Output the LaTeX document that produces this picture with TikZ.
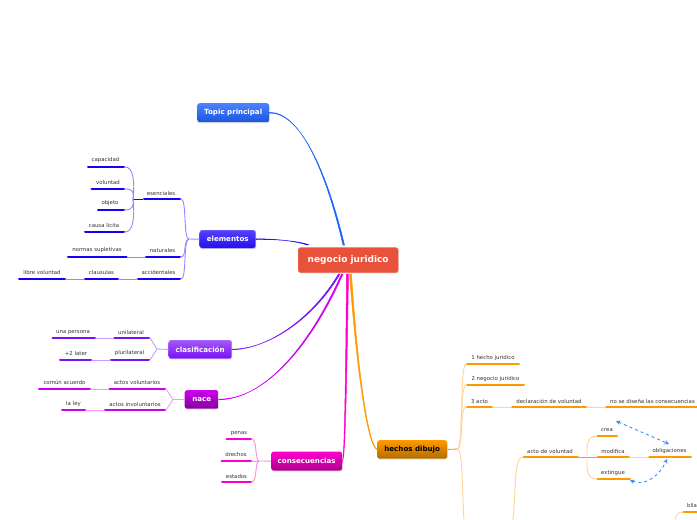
\documentclass[tikz,border=0pt]{standalone}
\usepackage{fontspec}
\setmainfont{DejaVu Sans}
\usetikzlibrary{arrows.meta,calc,shadows}
\definecolor{rootred}{HTML}{E8523A}
\definecolor{topicblue}{HTML}{1E62FF}
\definecolor{elemblue}{HTML}{2A10FF}
\definecolor{barblue}{HTML}{1800F5}
\definecolor{linkblue}{HTML}{9488FF}
\definecolor{clasviolet}{HTML}{7A10F5}
\definecolor{linkviolet}{HTML}{C4A0FA}
\definecolor{nacepurple}{HTML}{CC00F0}
\definecolor{linkpurple}{HTML}{EE99FA}
\definecolor{conspink}{HTML}{FF00CC}
\definecolor{linkpink}{HTML}{FF88E4}
\definecolor{hechosorange}{HTML}{FF9900}
\definecolor{linkorange}{HTML}{FFD49A}
\definecolor{dashblue}{HTML}{3A8FF0}
\definecolor{textdark}{HTML}{333333}
\tikzset{
  mainbox/.style={rectangle, rounded corners=2.5pt, font=\bfseries\fontsize{7.1}{9}\selectfont, text=white, inner sep=0pt, anchor=north west, drop shadow={opacity=0.22, shadow xshift=0.6pt, shadow yshift=-1pt}},
  leaftext/.style={font=\fontsize{5.4}{7}\selectfont, text=textdark, inner sep=0pt, anchor=center},
  bar/.style={line width=2pt, line cap=round},
  branch/.style={line width=0.9pt},
  rootlink/.style={line width=0.5pt},
  assoc/.style={dashblue, line width=0.9pt, dash pattern=on 3pt off 3pt, {Stealth[length=4.5pt,width=4.5pt]}-{Stealth[length=4.5pt,width=4.5pt]}}
}
\begin{document}
\begin{tikzpicture}[x=1pt,y=-1pt]
  \useasboundingbox (0,0) rectangle (697,520);

  % main topics
  \node[mainbox, fill=rootred, draw=rootred!80!white, minimum width=100pt, minimum height=25pt, font=\bfseries\fontsize{9}{10}\selectfont] (root) at (298,247.4) {negocio juridico};
  \node[mainbox, top color=topicblue!80!white, bottom color=topicblue!88!black, minimum width=72pt, minimum height=19pt] (topic) at (197,103) {Topic principal};
  \node[mainbox, top color=elemblue!80!white, bottom color=elemblue!92!black, draw=elemblue!55!white, minimum width=56pt, minimum height=18pt] (elementos) at (199.5,230) {elementos};
  \node[mainbox, top color=clasviolet!70!white, bottom color=clasviolet, draw=clasviolet!55!white, minimum width=63pt, minimum height=18.5pt] (clasificacion) at (168.5,340) {clasificación};
  \node[mainbox, top color=nacepurple, bottom color=nacepurple!65!black, minimum width=34pt, minimum height=18.5pt] (nace) at (184.5,390) {nace};
  \node[mainbox, top color=conspink, bottom color=conspink!68!black, minimum width=71pt, minimum height=19pt] (consecuencias) at (271,451.4) {consecuencias};
  \node[mainbox, top color=hechosorange, bottom color=hechosorange!70!black, text=black, minimum width=70pt, minimum height=18.5pt] (hechos) at (377,440) {hechos dibujo};

  % root connectors
  \filldraw[topicblue, rootlink] ($(topic.east)+(0,-0.3)$) .. controls (300,111.7) and (325.5,170) .. (343,245) -- (344.5,245) .. controls (326.5,170) and (300,112.3) .. ($(topic.east)+(0,0.3)$) -- cycle;
  \filldraw[elemblue, rootlink] ($(elementos.east)+(0,-0.3)$) .. controls (275,238.7) and (295,241) .. (307.5,245) -- (308.5,244.6) .. controls (295,240.4) and (275,239.3) .. ($(elementos.east)+(0,0.3)$) -- cycle;
  \filldraw[clasviolet, rootlink] ($(clasificacion.east)+(0,0.3)$) .. controls (265,349.3) and (310,322) .. (338.5,274) -- (340,274) .. controls (311.5,322) and (265,349.7) .. ($(clasificacion.east)+(0,-0.3)$) -- cycle;
  \filldraw[nacepurple, rootlink] ($(nace.east)+(0,0.3)$) .. controls (265,399.3) and (310,345) .. (341.5,274) -- (343,274) .. controls (311.5,345) and (265,399.7) .. ($(nace.east)+(0,-0.3)$) -- cycle;
  \filldraw[conspink, rootlink] ($(consecuencias.east)+(0,0.3)$) .. controls (344,461) and (345.5,400) .. (346.5,274) -- (348.5,274) .. controls (346.5,400) and (345,461) .. ($(consecuencias.east)+(0,-0.3)$) -- cycle;
  \filldraw[hechosorange, rootlink] ($(hechos.west)+(-0.3,0)$) .. controls (368,445) and (357.5,380) .. (349.5,274) -- (351.5,274) .. controls (358.5,380) and (368.6,445) .. ($(hechos.west)+(0.3,0)$) -- cycle;

  % elementos
  \node[leaftext] (capacidad) at (105.5,160.5) {capacidad};
  \node[leaftext] (voluntad) at (108,182.5) {voluntad};
  \node[leaftext] (objeto) at (110,203.5) {objeto};
  \node[leaftext] (causa) at (104,225.5) {causa licita};
  \node[leaftext] (esenciales) at (161,193.5) {esenciales};
  \node[leaftext] (naturales) at (162.5,250.5) {naturales};
  \node[leaftext] (normas) at (97,250.5) {normas supletivas};
  \node[leaftext] (accidentales) at (158.5,272.5) {accidentales};
  \node[leaftext] (clausulas) at (101.5,272.5) {clausulas};
  \node[leaftext] (libre) at (42,272.5) {libre voluntad};
  \draw[linkblue, branch] (elementos.west) -- (189,239);
  \draw[linkblue, branch] (189,239) .. controls (183,239) and (187,199) .. (181,199);
  \draw[linkblue, branch] (189,239) .. controls (183,239) and (187,257) .. (181,257);
  \draw[linkblue, branch] (189,239) .. controls (183,239) and (187,279) .. (181,279);
  \draw[barblue, branch] (143,199) -- (133,199);
  \draw[linkblue, branch] (133,199) .. controls (135,180) and (133,167) .. (125,167);
  \draw[linkblue, branch] (133,199) .. controls (134,192) and (133,189) .. (125,189);
  \draw[linkblue, branch] (133,199) .. controls (134,205) and (133,210) .. (125,210);
  \draw[linkblue, branch] (133,199) .. controls (135,218) and (133,232) .. (125,232);
  \draw[linkblue, branch] (145,257) -- (127,257);
  \draw[linkblue, branch] (137,279) -- (119,279);
  \draw[linkblue, branch] (84,279) -- (66,279);
  \draw[barblue, bar] (88,167) -- (124,167);
  \draw[barblue, bar] (91.5,189) -- (124,189);
  \draw[barblue, bar] (98,210) -- (124,210);
  \draw[barblue, bar] (85,232) -- (124,232);
  \draw[barblue, bar] (144,199) -- (180,199);
  \draw[barblue, bar] (146,257) -- (180,257);
  \draw[barblue, bar] (68,257) -- (126.5,257);
  \draw[barblue, bar] (138,279) -- (180,279);
  \draw[barblue, bar] (85,279) -- (118,279);
  \draw[barblue, bar] (19,279) -- (65,279);

  % clasificacion
  \node[leaftext] (unilateral) at (131,332.5) {unilateral};
  \node[leaftext] (persona) at (73,332.5) {una persona};
  \node[leaftext] (plurilateral) at (129.5,353.5) {plurilateral};
  \node[leaftext] (later) at (76,353.5) {+2 later};
  \draw[linkviolet, branch] (clasificacion.west) -- (157,349);
  \draw[linkviolet, branch] (157,349) -- (150,338);
  \draw[linkviolet, branch] (157,349) -- (150,360);
  \draw[linkviolet, branch] (114,338) -- (96,338);
  \draw[linkviolet, branch] (110,360) -- (92,360);
  \draw[clasviolet, bar] (114.5,338) -- (149,338);
  \draw[clasviolet, bar] (52.5,338) -- (95,338);
  \draw[clasviolet, bar] (111,360) -- (149,360);
  \draw[clasviolet, bar] (60,360) -- (91,360);

  % nace
  \node[leaftext] (voluntarios) at (137,382.5) {actos voluntarios};
  \node[leaftext] (comun) at (64.5,382.5) {común acuerdo};
  \node[leaftext] (involuntarios) at (135,404.5) {actos involuntarios};
  \node[leaftext] (ley) at (73.5,404.5) {la ley};
  \draw[linkpurple, branch] (nace.west) -- (173,399.5);
  \draw[linkpurple, branch] (173,399.5) -- (166,389);
  \draw[linkpurple, branch] (173,399.5) -- (166,410);
  \draw[linkpurple, branch] (109,389) -- (91,389);
  \draw[linkpurple, branch] (104,410) -- (86,410);
  \draw[nacepurple, bar] (109.5,389) -- (165,389);
  \draw[nacepurple, bar] (39,389) -- (90,389);
  \draw[nacepurple, bar] (105,410) -- (165,410);
  \draw[nacepurple, bar] (62,410) -- (85,410);

  % consecuencias
  \node[leaftext] (penas) at (239,433.5) {penas};
  \node[leaftext] (drechos) at (236,454.5) {drechos};
  \node[leaftext] (estados) at (236.5,476.5) {estados};
  \draw[linkpink, branch] (consecuencias.west) -- (259,461);
  \draw[linkpink, branch] (259,461) .. controls (255,461) and (257,439) .. (252,439);
  \draw[linkpink, branch] (259,461) -- (252,461);
  \draw[linkpink, branch] (259,461) .. controls (255,461) and (257,482) .. (252,482);
  \draw[conspink, bar] (226.5,439) -- (251,439);
  \draw[conspink, bar] (221.5,461) -- (251,461);
  \draw[conspink, bar] (222,482) -- (251,482);

  % hechos dibujo
  \node[leaftext] (hecho) at (493,358.5) {1 hecho juridico};
  \node[leaftext] (negocio) at (495.5,379.5) {2 negocio juridico};
  \node[leaftext] (acto) at (479.5,401.5) {3 acto};
  \node[leaftext] (declaracion) at (549,401.5) {declaración de voluntad};
  \node[leaftext] (disena) at (652.5,401.5) {no se diseña las consecuencias};
  \node[leaftext] (actovol) at (550,451.5) {acto de voluntad};
  \node[leaftext] (crea) at (607,430.5) {crea};
  \node[leaftext] (modifica) at (613,451.5) {modifica};
  \node[leaftext] (extingue) at (613,473.5) {extingue};
  \node[leaftext] (obligaciones) at (669.5,451.5) {obligaciones};
  \node[leaftext, anchor=west] (bila) at (687,505.5) {bila};
  \coordinate (creatip) at (616,421);
  \coordinate (obltop) at (669,444);
  \coordinate (extingtip) at (630,480);
  \coordinate (oblbot) at (667,459);
  \draw[hechosorange, branch] (hechos.east) -- (458,449);
  \draw[linkorange, branch] (458,449) .. controls (463,445) and (460,364) .. (466,364);
  \draw[linkorange, branch] (458,449) .. controls (463,445) and (460,385) .. (466,385);
  \draw[linkorange, branch] (458,449) .. controls (463,445) and (460,407) .. (466,407);
  \draw[linkorange, branch] (458,449) .. controls (463,453) and (462,490) .. (464,520);
  \draw[linkorange, branch] (493,407) -- (511,407);
  \draw[linkorange, branch] (587,407) -- (605,407);
  \draw[linkorange, branch] (522,457) .. controls (514,459) and (516,490) .. (513,520);
  \draw[hechosorange, branch] (579,457) -- (597,457);
  \draw[linkorange, branch] (597,436) .. controls (586,436) and (587,447) .. (587,457);
  \draw[linkorange, branch] (597,479) .. controls (586,479) and (587,468) .. (587,457);
  \draw[linkorange, branch] (630,457) -- (648,457);
  \draw[linkorange, branch] (683,512) .. controls (678,512) and (676,515) .. (675,520);
  \draw[hechosorange, bar] (467,364) -- (519,364);
  \draw[hechosorange, bar] (467,385) -- (524,385);
  \draw[hechosorange, bar] (467,407) -- (492,407);
  \draw[hechosorange, bar] (512,407) -- (586,407);
  \draw[hechosorange, bar] (606,407) -- (697,407);
  \draw[hechosorange, bar] (523.5,457) -- (578,457);
  \draw[hechosorange, bar] (597.5,436) -- (617,436);
  \draw[hechosorange, bar] (597.5,457) -- (629,457);
  \draw[hechosorange, bar] (597.5,479) -- (630,479);
  \draw[hechosorange, bar] (649,457) -- (691,457);
  \draw[hechosorange, bar] (683.5,512) -- (697,512);
  \draw[assoc] (creatip) -- (obltop);
  \draw[assoc] (extingtip) .. controls (645,487) and (660,475) .. (oblbot);
\end{tikzpicture}
\end{document}
